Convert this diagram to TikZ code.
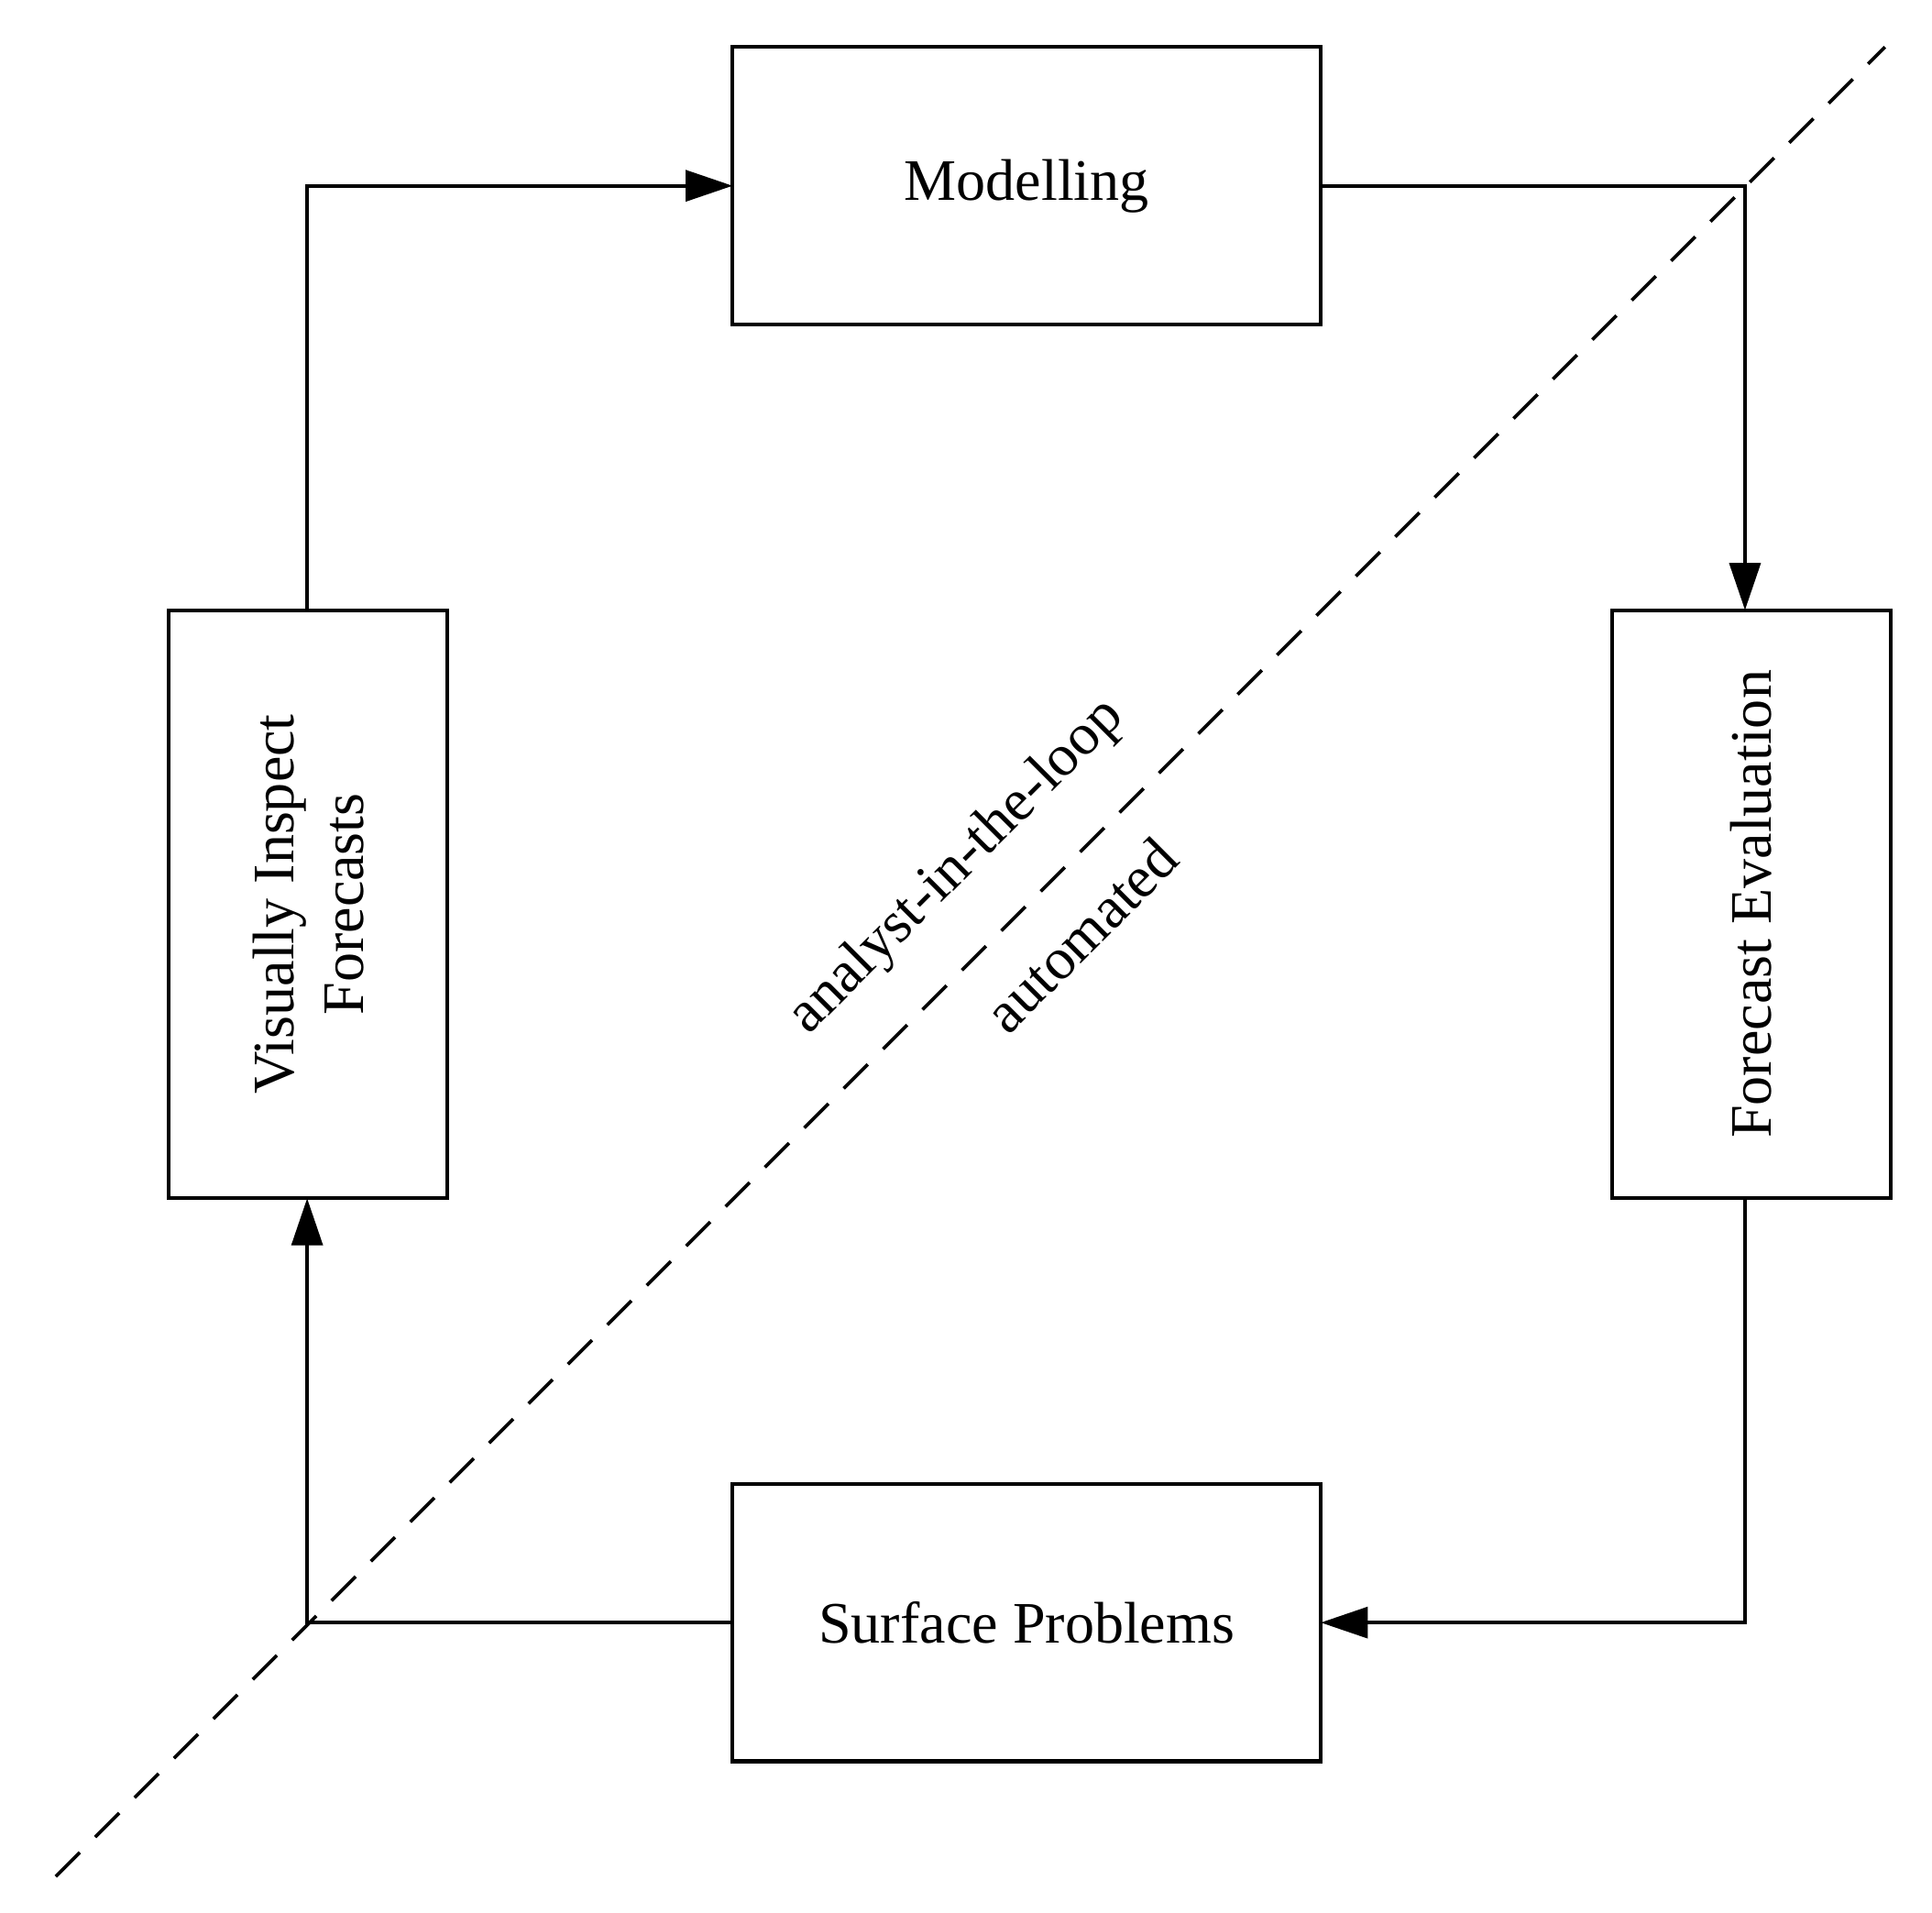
\documentclass[tikz,border=0pt]{standalone}
\usepackage{fontspec}
\setmainfont{Liberation Serif}
\usetikzlibrary{arrows.meta}
\begin{document}
\begin{tikzpicture}[x=0.02cm,y=-0.02cm,
 box/.style={draw,line width=1.7pt,inner sep=0pt,outer sep=0pt,align=center,font=\fontsize{27}{32}\selectfont},
 lnk/.style={line width=1.7pt,-{Triangle[length=0.76cm,width=0.5cm]}},
 lbl/.style={font=\fontsize{27}{32}\selectfont,rotate=45}]
\useasboundingbox (0,0) rectangle (1560,1544);
\node[box,minimum width=9.5cm,minimum height=4.48cm] (mod) at (829,150) {Modelling};
\node[box,minimum width=9.5cm,minimum height=4.48cm] (sur) at (829,1310) {Surface Problems};
\node[box,minimum width=4.5cm,minimum height=9.5cm] (vis) at (249,730) {};
\node[rotate=90,font=\fontsize{27}{32}\selectfont,align=center] at (249,730) {Visually Inspect\\Forecasts};
\node[box,minimum width=4.5cm,minimum height=9.5cm] (fe) at (1414,730) {};
\node[rotate=90,font=\fontsize{27}{32}\selectfont] at (1414,730) {Forecast Evaluation};
\coordinate (tl) at (248,150);
\coordinate (tr) at (1409,150);
\coordinate (br) at (1409,1310);
\coordinate (bl) at (248,1310);
\coordinate (d1) at (45,1515);
\coordinate (d2) at (1522,38);
\draw[line width=1.5pt,dash pattern=on 0.55cm off 0.35cm] (d1) -- (d2);
\draw[lnk] (vis.north -| tl) -- (tl) -- (mod.west);
\draw[lnk] (mod.east) -- (tr) -- (fe.north -| tr);
\draw[lnk] (fe.south -| br) -- (br) -- (sur.east);
\draw[lnk] (sur.west) -- (bl) -- (vis.south -| bl);
\node[lbl] (a) at (773,700) {analyst-in-the-loop};
\node[lbl] (b) at (873,755) {automated};
\end{tikzpicture}
\end{document}
